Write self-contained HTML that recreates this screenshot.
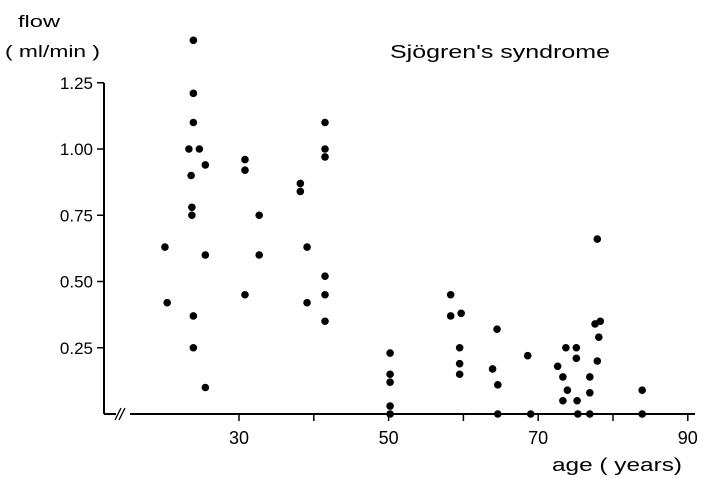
<!DOCTYPE html>
<html><head><meta charset="utf-8"><style>
html,body{margin:0;padding:0;background:#fff;}
svg{display:block;font-family:"Liberation Sans",sans-serif;}
</style></head><body>
<svg id="chart" width="712" height="478" viewBox="0 0 712 478">
<text x="18" y="27" font-size="17" textLength="42" lengthAdjust="spacingAndGlyphs">flow</text>
<text x="5" y="57" font-size="17" textLength="95" lengthAdjust="spacingAndGlyphs">( ml/min )</text>
<text x="390" y="58" font-size="18" textLength="220" lengthAdjust="spacingAndGlyphs">Sjögren's syndrome</text>
<text x="552" y="471" font-size="18" textLength="130" lengthAdjust="spacingAndGlyphs">age ( years)</text>
<line x1="104" y1="83" x2="104" y2="414" stroke="#000" stroke-width="2"/>
<line x1="104" y1="414" x2="116" y2="414" stroke="#000" stroke-width="2"/>
<line x1="130" y1="414" x2="695" y2="414" stroke="#000" stroke-width="2"/>
<line x1="115" y1="420" x2="121" y2="408" stroke="#000" stroke-width="1.3"/>
<line x1="119" y1="420" x2="125" y2="408" stroke="#000" stroke-width="1.3"/>
<g id="ticks"></g>
<g id="dots"></g>
</svg>
<script>
const xTicks=[30,40,50,60,70,80,90];
const xTickLabels=["30","","50","","70","","90"];
const yTicks=[0.25,0.5,0.75,1.0,1.25];
const yTickLabels=["0.25","0.50","0.75","1.00","1.25"];
const ages=[20.1,20.4,23.9,23.9,23.9,23.9,23.9,23.3,24.7,23.6,23.7,23.7,25.5,25.5,25.5,
30.8,30.8,30.8,32.7,32.7,38.2,38.2,39.1,39.1,
41.5,41.5,41.5,41.5,41.5,41.5,
50.2,50.2,50.2,50.2,50.2,
58.3,58.3,59.7,59.5,59.5,59.5,
64.5,63.9,64.6,64.6,68.6,69.0,
72.6,73.3,73.3,73.7,73.9,75.1,75.1,75.2,75.3,76.9,76.9,76.9,77.6,77.9,78.1,78.3,77.9,83.9,83.9];
const flows=[0.63,0.42,1.41,1.21,1.10,0.37,0.25,1.00,1.00,0.90,0.78,0.75,0.94,0.60,0.10,
0.96,0.92,0.45,0.75,0.60,0.87,0.84,0.63,0.42,
1.10,1.00,0.97,0.52,0.45,0.35,
0.23,0.15,0.12,0.03,0.0,
0.45,0.37,0.38,0.25,0.19,0.15,
0.32,0.17,0.11,0.0,0.22,0.0,
0.18,0.14,0.05,0.25,0.09,0.25,0.21,0.05,0.0,0.14,0.08,0.0,0.34,0.20,0.29,0.35,0.66,0.09,0.0];
const NS="http://www.w3.org/2000/svg";
function xs(a){return 239+(a-30)*7.48;}
function ys(v){return 414-v*265;}
const tg=document.getElementById('ticks');
xTicks.forEach((t,i)=>{
 const l=document.createElementNS(NS,'line');
 l.setAttribute('x1',xs(t));l.setAttribute('x2',xs(t));l.setAttribute('y1',414);l.setAttribute('y2',421);
 l.setAttribute('stroke','#000');l.setAttribute('stroke-width','1.5');
 
 
 tg.appendChild(l);
 if(xTickLabels[i]){
  const tx=document.createElementNS(NS,'text');
  tx.setAttribute('x',xs(t));tx.setAttribute('y',444);tx.setAttribute('font-size','18');tx.setAttribute('text-anchor','middle');
  tx.textContent=xTickLabels[i];
  
  
  tg.appendChild(tx);
 }
});
yTicks.forEach((t,i)=>{
 const l=document.createElementNS(NS,'line');
 l.setAttribute('x1',97);l.setAttribute('x2',104);l.setAttribute('y1',ys(t));l.setAttribute('y2',ys(t));
 l.setAttribute('stroke','#000');l.setAttribute('stroke-width','1.5');
 
 
 tg.appendChild(l);
 const tx=document.createElementNS(NS,'text');
 tx.setAttribute('x',93);tx.setAttribute('y',ys(t)+6);tx.setAttribute('font-size','17');tx.setAttribute('text-anchor','end');
 tx.textContent=yTickLabels[i];
 
 
 tg.appendChild(tx);
});
const dg=document.getElementById('dots');
ages.forEach((a,i)=>{
 const c=document.createElementNS(NS,'circle');
 c.setAttribute('cx',xs(a));c.setAttribute('cy',ys(flows[i]));c.setAttribute('r',3.8);c.setAttribute('fill','#000');
 
 
 dg.appendChild(c);
});
</script>
</body></html>
